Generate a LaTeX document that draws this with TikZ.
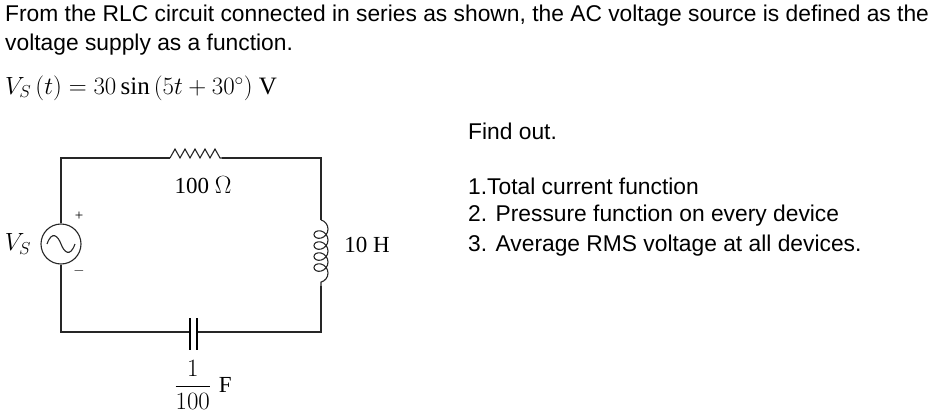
\documentclass[tikz,border=0pt]{standalone}
\usepackage{fontspec}
\setmainfont{Liberation Serif}
\newfontfamily\hv{Liberation Sans}
\usetikzlibrary{decorations.pathmorphing}
\begin{document}
\begin{tikzpicture}[x=1pt,y=-1pt,
  wire/.style={line width=1.1pt,black!85},
  hdr/.style={anchor=west,inner sep=0,font=\hv\fontsize{22.8}{26}\selectfont},
  lab/.style={inner sep=0,font=\fontsize{23}{26}\selectfont}]
\useasboundingbox (0,0) rectangle (935,415);
\node[hdr] (t1) at (5,16) {From the RLC circuit connected in series as shown, the AC voltage source is defined as the};
\node[hdr] (t2) at (5,45) {voltage supply as a function.};
\node[anchor=west,inner sep=0,font=\fontsize{25}{28}\selectfont] (f) at (5,88) {$V_S\left(t\right)=30\sin\left(5t+30^\circ\right)$ V};
\node[hdr] (fo) at (468,131) {Find out.};
\node[hdr] (q1) at (468,186) {1.Total current function};
\node[hdr] (q2) at (468,216) {2. Pressure function on every device};
\node[hdr] (q3) at (468,246) {3. Average RMS voltage at all devices.};
% corners
\coordinate (tl) at (61,158); \coordinate (tr) at (321,158);
\coordinate (bl) at (61,332); \coordinate (br) at (321,332);
\node[draw,circle,wire,minimum size=40pt,inner sep=0] (src) at (61,244) {};
\draw[wire] (src.north) -- (tl) -- (170,158);
\draw[wire] (170,158) -- (175,149) -- (180,158) -- (185,149) -- (190,158) -- (195,149) -- (200,158) -- (205,149) -- (210,158) -- (215,149) -- (220,158) -- (222,158);
\draw[wire] (222,158) -- (tr) -- (321,220);
\draw[wire,decoration={coil,aspect=0.9,segment length=11pt,amplitude=7pt},decorate] (321,220) -- (321,286);
\draw[wire] (321,286) -- (br) -- (197,332);
\draw[wire] (190,332) -- (bl) -- (src.south);
\draw[line width=1.6pt] (190,318) -- (190,350) (197,318) -- (197,350);
\draw[wire] (47,244) .. controls (52,230) and (58,236) .. (61,244) .. controls (64,252) and (70,258) .. (75,244);
\node[lab] (r) at (203,185) {100 $\Omega$};
\node[lab] (l) at (367,245) {10 H};
\node[lab] (c) at (203,385) {$\displaystyle\frac{1}{100}$\,\,F};
\node[lab] (vs) at (18,244) {$V_S$};
\node[font=\fontsize{15}{16}\selectfont,inner sep=0] (p) at (79,216) {+};
\node[font=\fontsize{15}{16}\selectfont,inner sep=0] (m) at (79,271) {$-$};
\end{tikzpicture}
\end{document}
